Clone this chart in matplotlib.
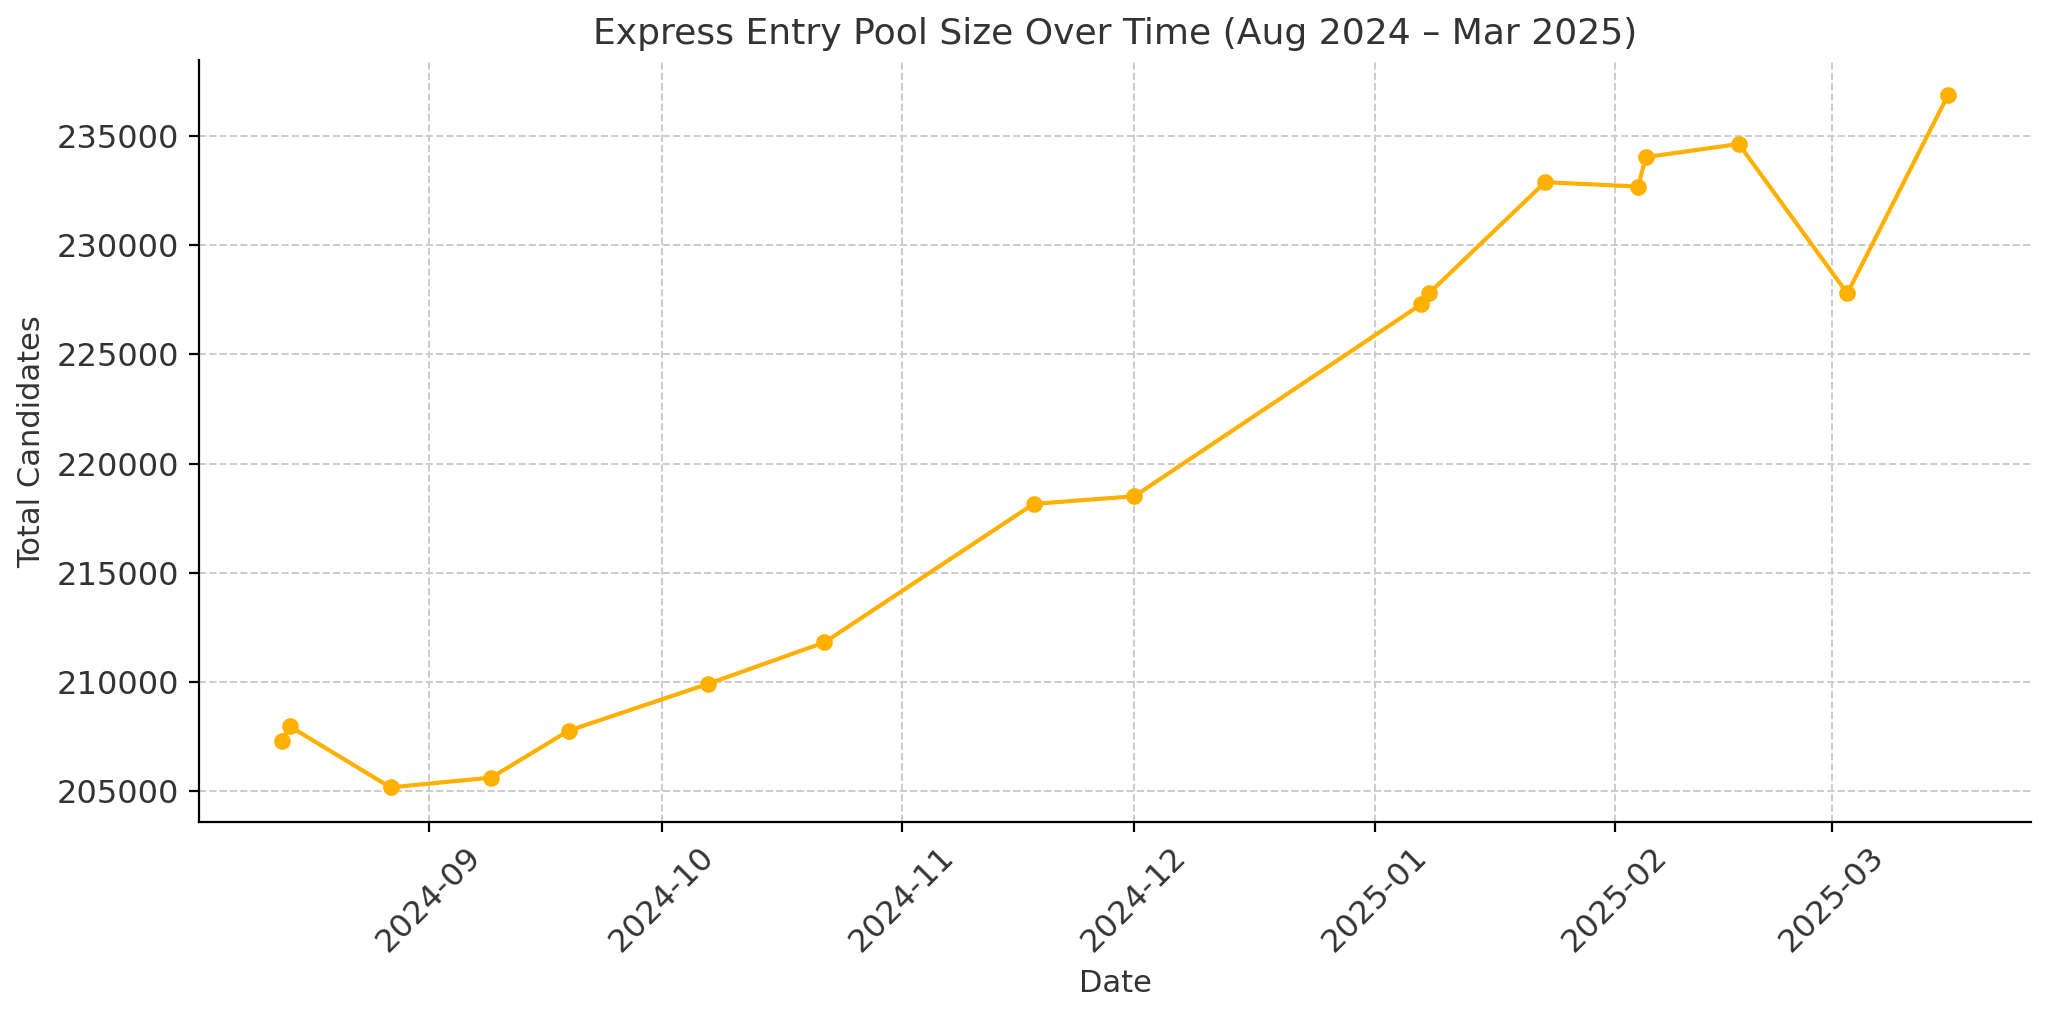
import matplotlib
matplotlib.use("Agg")
import matplotlib.pyplot as plt
import matplotlib.dates as mdates
import pandas as pd

dates = ["2024-08-13","2024-08-14","2024-08-27","2024-09-09","2024-09-19","2024-10-07",
         "2024-10-22","2024-11-18","2024-12-01","2025-01-07","2025-01-08","2025-01-23",
         "2025-02-04","2025-02-05","2025-02-17","2025-03-03","2025-03-16"]
candidates = [207300,207950,205150,205600,207750,209900,211800,218150,218500,227300,
              227800,232900,232700,234050,234650,227800,236900]

plt.rcParams['font.family'] = ['DejaVu Sans']
fig, ax = plt.subplots(figsize=(10.24, 5.075), dpi=200)
ax.plot(pd.to_datetime(dates), candidates, marker='o', color='#FFB000', linewidth=1.5, markersize=5)
ax.set_title("Express Entry Pool Size Over Time (Aug 2024 – Mar 2025)", color='#333333', fontsize=13)
ax.set_xlabel("Date", color='#333333', fontsize=11)
ax.set_ylabel("Total Candidates", color='#333333', fontsize=11)
ax.grid(True, linestyle='--', color='#cccccc', linewidth=0.7)
ax.set_axisbelow(True)
ax.spines['top'].set_visible(False)
ax.spines['right'].set_visible(False)
ax.xaxis.set_major_locator(mdates.MonthLocator())
ax.xaxis.set_major_formatter(mdates.DateFormatter('%Y-%m'))
ax.tick_params(labelsize=11.5)
plt.setp(ax.get_xticklabels(), rotation=45, color='#333333')
plt.setp(ax.get_yticklabels(), color='#333333')
ax.ticklabel_format(axis='y', style='plain', useOffset=False)
fig.tight_layout(pad=0.6)
fig.savefig("out.png", dpi=200)
